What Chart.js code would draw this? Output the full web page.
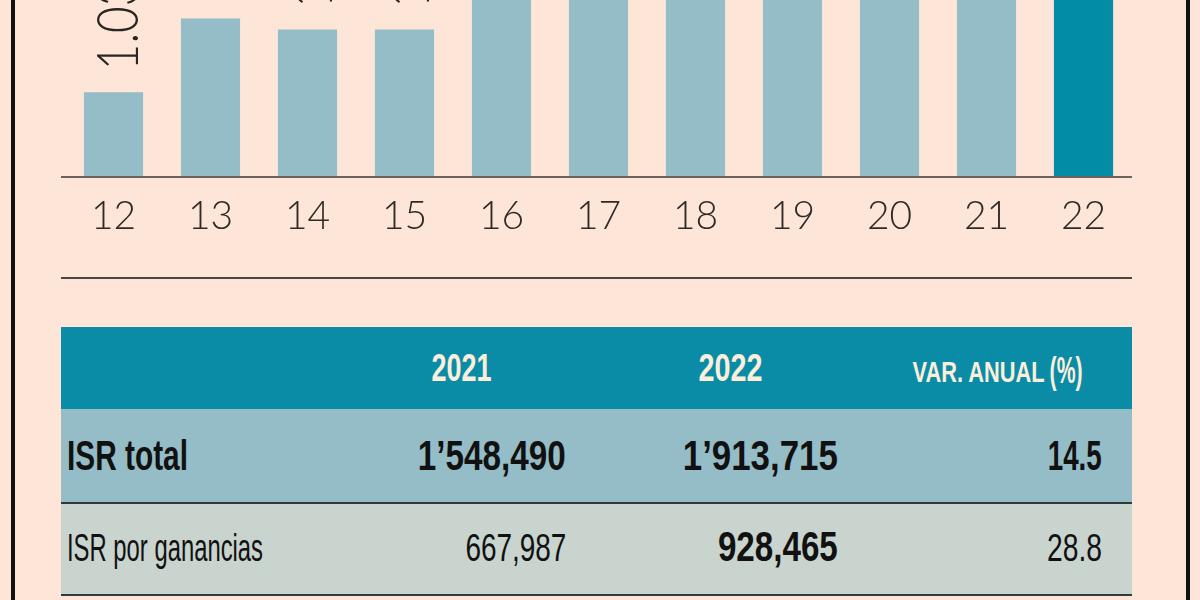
<!DOCTYPE html>
<html>
<head>
<meta charset="utf-8">
<script src="https://cdn.jsdelivr.net/npm/chart.js@4"></script>
<style>
  body { margin: 0; background: #fde6d8; }
  #page { position: relative; width: 1200px; height: 600px; overflow: hidden; background: #fde6d8; }
  #chart { position: absolute; left: 0; top: 0; }
  .vline { position: absolute; top: 0; height: 600px; width: 4px; background: #111; }
  .hline { position: absolute; left: 61px; width: 1071px; }
  .band { position: absolute; left: 61px; width: 1071px; }
  .txt { position: absolute; font-family: "Liberation Sans Narrow", "Liberation Sans", sans-serif; white-space: nowrap; line-height: 1; }
  .l { transform-origin: left center; }
  .r { transform-origin: right center; text-align: right; }
</style>
</head>
<body>
<div id="page">
  <canvas id="chart" width="1200" height="300"></canvas>
  <div class="vline" style="left:11px"></div>
  <div class="vline" style="left:1186px"></div>
  <div class="hline" style="top:277px;height:2px;background:#4d4640"></div>

  <div class="band" style="top:327px;height:82px;background:#0b8ca6"></div>
  <div class="band" style="top:409px;height:93px;background:#94bdc7"></div>
  <div class="band" style="top:502px;height:2px;background:#2f3a3a"></div>
  <div class="band" style="top:504px;height:90px;background:#c9d4cf"></div>
  <div class="band" style="top:594px;height:2px;background:#2f3a3a"></div>
  <div id="table"></div>
</div>
<script>
// ISR, serie anual
const years = ["12", "13", "14", "15", "16", "17", "18", "19", "20", "21", "22"];
const values = [1.03, 1.23, 1.20, 1.20, 1.38, 1.45, 1.50, 1.52, 1.55, 1.62, 1.75];
const valueLabels = ["1.03", "1.23", "1.20", "1.20", "1.38", "1.45", "1.50", "1.52", "1.55", "1.62", "1.75"];

// tabla
const headers = ["2021", "2022", "VAR. ANUAL", "(%)"];
const rowNames = ["ISR total", "ISR por ganancias"];
const col2021 = ["1\u2019548,490", "667,987"];
const col2022 = ["1\u2019913,715", "928,465"];
const colVar = ["14.5", "28.8"];

const barColors = values.map((v, i) => (i === values.length - 1 ? "#028ca6" : "#94bdc7"));

const rotatedLabels = {
  id: "rotatedLabels",
  afterDatasetsDraw(chart) {
    const ctx = chart.ctx;
    const meta = chart.getDatasetMeta(0);
    ctx.save();
    ctx.fillStyle = "#2a2522";
    ctx.font = "300 58px Lato, 'DejaVu Sans', sans-serif";
    ctx.textAlign = "left";
    ctx.textBaseline = "alphabetic";
    meta.data.forEach((bar, i) => {
      ctx.save();
      ctx.translate(bar.x + 24, bar.y - 22);
      ctx.rotate(-Math.PI / 2);
      ctx.scale(0.79, 1);
      ctx.fillText(valueLabels[i], 0, 0);
      ctx.restore();
    });
    ctx.restore();
  },
};

// la linea del eje empieza un poco antes que las barras
const axisLine = {
  id: "axisLine",
  afterDraw(chart) {
    const ctx = chart.ctx;
    const y = chart.chartArea.bottom;
    ctx.save();
    ctx.strokeStyle = "#6b625b";
    ctx.lineWidth = 2;
    ctx.beginPath();
    ctx.moveTo(61, y);
    ctx.lineTo(1132, y);
    ctx.stroke();
    ctx.restore();
  },
};

new Chart(document.getElementById("chart").getContext("2d"), {
  type: "bar",
  data: {
    labels: years,
    datasets: [
      {
        data: values,
        backgroundColor: barColors,
        categoryPercentage: 1,
        barPercentage: 0.61,
      },
    ],
  },
  options: {
    responsive: false,
    animation: false,
    layout: { padding: { left: 65, right: 68, top: 0, bottom: 0 } },
    plugins: { legend: { display: false }, tooltip: { enabled: false } },
    scales: {
      x: {
        grid: { display: false, drawTicks: false },
        border: { display: false },
        ticks: {
          color: "#2f2a27",
          padding: 16,
          font: { family: "Lato, 'DejaVu Sans', sans-serif", size: 39, weight: "300" },
        },
        afterFit(scale) {
          scale.height = 123;
        },
      },
      y: {
        display: false,
        min: 0.8,
        max: 1.28,
      },
    },
  },
  plugins: [rotatedLabels, axisLine],
});

// texto de la tabla, ajustado al ancho del original
function addText(str, opts) {
  const d = document.createElement("div");
  d.className = "txt " + (opts.align === "right" ? "r" : "l");
  d.textContent = str;
  d.style.top = opts.top + "px";
  d.style.fontSize = opts.size + "px";
  d.style.fontWeight = opts.bold ? "bold" : "normal";
  d.style.color = opts.color;
  if (opts.align === "right") {
    d.style.right = 1200 - opts.x + "px";
  } else {
    d.style.left = opts.x + "px";
  }
  document.getElementById("table").appendChild(d);
  const w = d.getBoundingClientRect().width;
  d.style.transform = "scaleX(" + (opts.w / w).toFixed(3) + ")";
}

const cream = "#fbefdc";
addText(headers[0], { x: 492, w: 60, top: 349, size: 38, bold: true, color: cream, align: "right" });
addText(headers[1], { x: 763, w: 64, top: 349, size: 38, bold: true, color: cream, align: "right" });
addText(headers[2], { x: 1045, w: 132, top: 358, size: 29, bold: true, color: cream, align: "right" });
addText(headers[3], { x: 1083, w: 33, top: 352, size: 37, bold: true, color: cream, align: "right" });

const rowTops = [435, 529];
const widths = [
  { name: 121, a: 148, b: 155, c: 54 },
  { name: 196, a: 101, b: 120, c: 55 },
];
rowNames.forEach((name, i) => {
  const bold = i === 0;
  const size = bold ? 42 : 38;
  const top = rowTops[i];
  addText(name, { x: 67, w: widths[i].name, top: top, size: size, bold: bold, color: "#111", align: "left" });
  addText(col2021[i], { x: 566, w: widths[i].a, top: top, size: size, bold: bold, color: "#111", align: "right" });
  addText(col2022[i], { x: 838, w: widths[i].b, top: bold ? top : top - 3, size: 42, bold: true, color: "#111", align: "right" });
  addText(colVar[i], { x: 1102, w: widths[i].c, top: top, size: size, bold: bold, color: "#111", align: "right" });
});
</script>
</body>
</html>
